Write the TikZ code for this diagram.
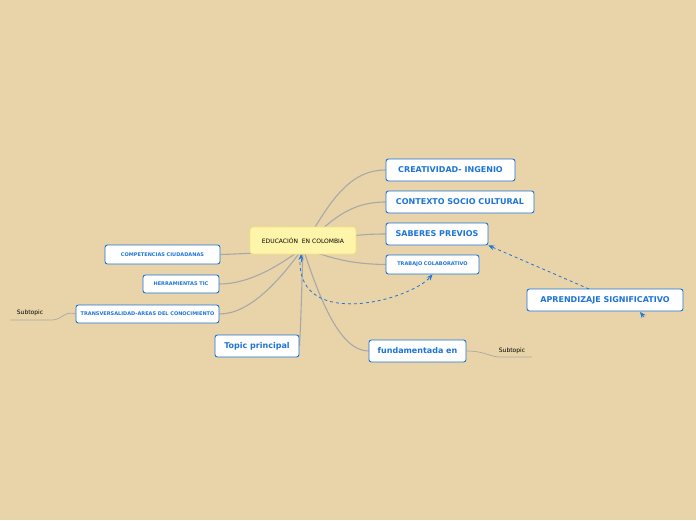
\documentclass[tikz,border=0pt]{standalone}
\usepackage{fontspec}
\setmainfont{DejaVu Sans}
\usetikzlibrary{arrows.meta,backgrounds}
\pgfdeclarelayer{back}
\pgfsetlayers{back,background,main}
\definecolor{bg}{HTML}{E8D4A8}
\definecolor{tb}{HTML}{1D74D8}
\definecolor{ln}{HTML}{A8A8A8}
\begin{document}
\begin{tikzpicture}[x=1pt,y=-1pt,
 topic/.style={draw=tb,line width=0.9pt,fill=white,rounded corners=2.5pt,text=tb,font=\bfseries\fontsize{8}{9}\selectfont,inner sep=0pt},
 small/.style={topic,font=\bfseries\fontsize{5}{6}\selectfont},
 conn/.style={draw=ln,line width=1.1pt},
 rel/.style={draw=tb,dashed,line width=0.8pt,-{Stealth[length=6pt,width=5pt]}}]
\begin{pgfonlayer}{back}
\fill[bg] (0,0) rectangle (696,520);
\end{pgfonlayer}
\useasboundingbox (0,0) rectangle (696,520);
\node[draw={rgb,255:red,245;green,224;blue,122},line width=0.8pt,fill={rgb,255:red,255;green,245;blue,170},rounded corners=3pt,minimum width=106pt,minimum height=27pt,inner sep=0pt,font=\fontsize{6}{7}\selectfont] (c) at (303,240.5) {EDUCACIÓN\ \ EN COLOMBIA};
\node[topic,minimum width=129pt,minimum height=22pt] (cr) at (450.5,170) {CREATIVIDAD- INGENIO};
\node[topic,minimum width=148pt,minimum height=22pt] (co) at (460,202) {CONTEXTO SOCIO CULTURAL};
\node[topic,minimum width=102pt,minimum height=22pt] (sa) at (437,234) {SABERES PREVIOS};
\node[small,minimum width=93pt,minimum height=19pt] (tr) at (432.5,264.5) {TRABAJO COLABORATIVO};
\node[topic,minimum width=156pt,minimum height=22pt] (ap) at (605,300) {APRENDIZAJE SIGNIFICATIVO};
\node[topic,minimum width=97pt,minimum height=22pt] (fu) at (417.5,351) {fundamentada en};
\node[topic,minimum width=84pt,minimum height=22pt] (tp) at (257,346) {Topic principal};
\node[small,minimum width=115pt,minimum height=19pt] (cc) at (162.5,254.5) {COMPETENCIAS CIUDADANAS};
\node[small,minimum width=76pt,minimum height=18pt] (he) at (181,284) {HERRAMIENTAS TIC};
\node[small,minimum width=143pt,minimum height=18pt] (ts) at (147.5,314) {TRANSVERSALIDAD-AREAS DEL CONOCIMIENTO};
\node[font=\fontsize{6}{7}\selectfont,inner sep=0pt] (s1) at (30,313) {Subtopic};
\node[font=\fontsize{6}{7}\selectfont,inner sep=0pt] (s2) at (512,351) {Subtopic};
\coordinate (s1e) at (10,320); \coordinate (s2e) at (532,357);
\coordinate (o) at (303,248);
\begin{scope}[on background layer]
\draw[conn] (o) .. controls (330,200) and (350,170) .. (cr.west);
\draw[conn] (o) .. controls (330,220) and (350,202) .. (co.west);
\draw[conn] (o) .. controls (340,236) and (360,234) .. (sa.west);
\draw[conn] (o) .. controls (340,262) and (360,264) .. (tr.west);
\draw[conn] (o) .. controls (320,300) and (340,351) .. (fu.west);
\draw[conn] (o) .. controls (302,280) and (301,320) .. (tp.east);
\draw[conn] (o) .. controls (280,252) and (240,254) .. (cc.east);
\draw[conn] (o) .. controls (280,265) and (250,284) .. (he.east);
\draw[conn] (o) .. controls (280,280) and (250,314) .. (ts.east);
\draw[draw=ln,line width=0.7pt] (ts.west) .. controls (65,310) and (62,320) .. (52,320) -- (s1e);
\draw[draw=ln,line width=0.7pt] (fu.east) .. controls (485,351) and (490,357) .. (500,357) -- (s2e);
\end{scope}
\draw[rel] (300,262) .. controls (300,330) and (410,300) .. (tr.south);
\draw[rel] (301,262) -- (301,254);
\draw[rel] (589,289) -- (sa.south east);
\draw[rel] (644,317) -- (640,312);
\end{tikzpicture}
\end{document}
